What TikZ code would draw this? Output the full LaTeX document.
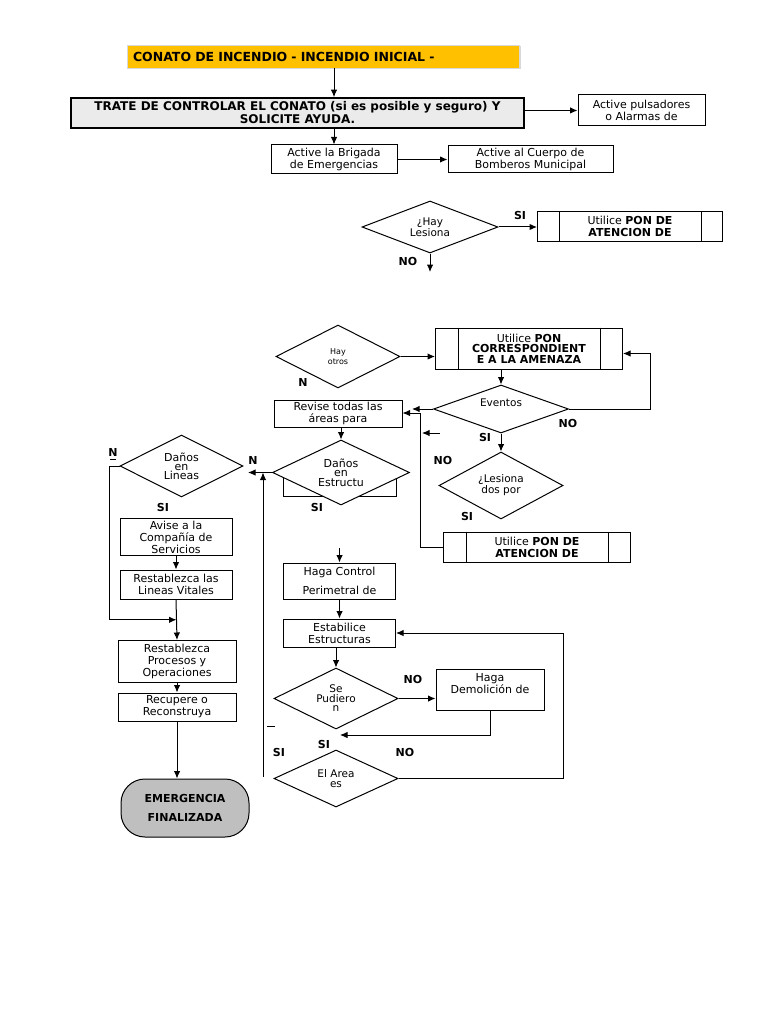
\documentclass[tikz,border=0pt]{standalone}
\usepackage{fontspec}
\setmainfont{DejaVu Sans}
\usepackage{tikz}
\usetikzlibrary{arrows.meta,positioning,calc,shapes.geometric,shadows}
\definecolor{Amber}{HTML}{FFC000}
\definecolor{Paper}{HTML}{EBEBEB}
\definecolor{Stone}{HTML}{BFBFBF}

\tikzset{
  base/.style={font=\fontsize{11}{12}\selectfont},
  box/.style={base,draw,line width=1pt,fill=white,align=center,inner sep=1pt},
  ponbox/.style={box,inner xsep=24pt},
  decision/.style={diamond,draw,line width=1pt,fill=white,align=center,inner sep=0pt,
    aspect=2,font=\fontsize{10.5}{9.5}\selectfont},
  lbl/.style={font=\bfseries\fontsize{11}{12}\selectfont,inner sep=0pt},
  flow/.style={line width=1pt,-{Latex[length=7.5pt,width=6.5pt]}},
  wire/.style={line width=1pt},
}
\newcommand{\sidebars}[2]{%
  \draw[wire] ([xshift=#2]#1.north west) -- ([xshift=#2]#1.south west);
  \draw[wire] ([xshift=-#2]#1.north east) -- ([xshift=-#2]#1.south east);}

\begin{document}
\begin{tikzpicture}[x=1pt,y=-1pt]
  \useasboundingbox[fill=white] (0,0) rectangle (768,1024);

  % cabecera
  \node[draw=gray!30,fill=Amber,drop shadow={shadow xshift=1.5pt,shadow yshift=-1.5pt,fill=gray!60},
    minimum width=392pt,minimum height=23pt,text width=380pt,align=left,inner xsep=6pt,
    font=\bfseries\fontsize{12.5}{14}\selectfont] (conato) at (323,56.5)
    {CONATO DE INCENDIO - INCENDIO INICIAL -};
  \node[box,fill=Paper,line width=1.6pt,minimum width=453pt,minimum height=30pt,
    font=\bfseries\fontsize{12}{13}\selectfont] (trate) at (297.5,113)
    {TRATE DE CONTROLAR EL CONATO (si es posible y seguro) Y\\SOLICITE AYUDA.};
  \node[box,minimum width=127pt,minimum height=31pt] (pulsa) at (641.5,110.5) {Active pulsadores\\o Alarmas de};
  \node[box,minimum width=126pt,minimum height=29pt] (brigada) at (334,159.5) {Active la Brigada\\de Emergencias};
  \node[box,minimum width=165pt,minimum height=27pt] (bomberos) at (530.5,159.5) {Active al Cuerpo de\\Bomberos Municipal};

  \node[decision,minimum width=136pt,minimum height=52pt] (lesion) at (430,227) {¿Hay\\Lesiona};
  \node[ponbox,minimum width=185pt,minimum height=29pt] (ponA) at (630,226.5) {Utilice \textbf{PON DE}\\\textbf{ATENCION DE}};
  \sidebars{ponA}{22pt}
  \coordinate (lesionNo) at (430,272);

  % amenazas y eventos
  \node[decision,minimum width=124pt,minimum height=63pt,font=\fontsize{8}{10}\selectfont] (otros) at (338,356.5) {Hay\\otros};
  \node[ponbox,minimum width=187pt,minimum height=41pt,font=\fontsize{11}{10.5}\selectfont] (ponB) at (529,348.5)
    {Utilice \textbf{PON}\\\textbf{CORRESPONDIENT}\\\textbf{E A LA AMENAZA}};
  \sidebars{ponB}{23pt}
  \node[decision,minimum width=135pt,minimum height=48pt] (eventos) at (501,409) {Eventos\\[3pt]};
  \node[box,minimum width=128pt,minimum height=27pt] (revise) at (338,413.5) {Revise todas las\\áreas para};
  \node[decision,minimum width=124pt,minimum height=67pt] (lesionB) at (501,485.5) {¿Lesiona\\dos por};
  \node[ponbox,minimum width=187pt,minimum height=30pt] (ponC) at (537,547) {Utilice \textbf{PON DE}\\\textbf{ATENCION DE}};
  \sidebars{ponC}{23pt}

  % danos
  \node[box,minimum width=113pt,minimum height=21pt] (perim) at (339.5,485.5) {};
  \node[decision,minimum width=137pt,minimum height=65pt,font=\fontsize{11}{9.5}\selectfont] (danosE) at (341,472.5) {Daños\\en\\Estructu};
  \node[decision,minimum width=123pt,minimum height=62pt,font=\fontsize{11}{9}\selectfont] (danosL) at (181.5,466) {Daños\\en\\Lineas};

  % columna izquierda
  \node[box,minimum width=112pt,minimum height=37pt] (avise) at (176,537) {Avise a la\\Compañía de\\Servicios};
  \node[box,minimum width=112pt,minimum height=29pt] (vitales) at (176,584.5) {Restablezca las\\Lineas Vitales};
  \node[box,minimum width=118pt,minimum height=42pt] (procesos) at (177,661.5) {Restablezca\\Procesos y\\Operaciones};
  \node[box,minimum width=118pt,minimum height=28pt] (recupere) at (177,707) {Recupere o\\Reconstruya};
  \node[box,fill=Stone,rounded corners=24pt,minimum width=128pt,minimum height=58pt,
    font=\bfseries\fontsize{11}{12}\selectfont] (fin) at (185,808) {EMERGENCIA\\[7pt]FINALIZADA};

  % columna central
  \node[box,minimum width=112pt,minimum height=36pt] (control) at (339.5,581) {Haga Control\\[7pt]Perimetral de};
  \node[box,minimum width=112pt,minimum height=28pt] (estabilice) at (339.5,633) {Estabilice\\Estructuras};
  \node[decision,minimum width=124pt,minimum height=61pt] (pudieron) at (336,698.5) {Se\\Pudiero\\n};
  \node[box,minimum width=108pt,minimum height=41pt] (demolicion) at (490,689.5) {Haga\\Demolición de\\~};
  \node[decision,minimum width=124pt,minimum height=57pt] (area) at (336,778.5) {El Area\\es};

  % conectores
  \draw[flow] (conato.south -| brigada) -- (trate.north -| brigada);
  \draw[flow] (trate.east |- pulsa) -- (pulsa.west);
  \draw[flow] (trate.south -| brigada) -- (brigada.north);
  \draw[flow] (brigada.east) -- (bomberos.west);
  \draw[flow] (lesion.east) -- (lesion.east -| ponA.west);
  \draw[flow] (lesion.south) -- (lesionNo);

  \draw[flow] (otros.east) -- (otros.east -| ponB.west);
  \draw[flow] (eventos.north |- ponB.south) -- (eventos.north);
  \coordinate (loopB) at (650,409);
  \draw[flow] (eventos.east) -- (loopB) |- ([yshift=-5pt]ponB.east);
  \coordinate (evL) at (412,409);
  \draw[flow] (eventos.west) -- (evL);
  \coordinate (stray1) at (440,433);
  \coordinate (stray1end) at (422,433);
  \draw[flow] (stray1) -- (stray1end);
  \draw[flow] (eventos.south) -- (lesionB.north);
  \coordinate (backC) at (420,413);
  \draw[flow] (ponC.west) -| (backC) -- (backC -| revise.east);

  \draw[flow] (danosE.north |- revise.south) -- (danosE.north);
  \coordinate (toLineas) at (248,472.5);
  \draw[flow] (danosE.west) -- (toLineas);
  \coordinate (riserBot) at (263,777);
  \draw[flow] (riserBot) -- (riserBot |- danosE.west);
  \coordinate (tick) at (267,726);
  \draw[wire] (tick) -- ++(8,0);

  \coordinate (join) at ($(vitales.south)!0.5!(procesos.north)$);
  \draw[flow] (danosL.west) -- ++(-10,0) |- (join);
  \draw[flow] (avise.south) -- (vitales.north);
  \draw[flow] (vitales.south) -- (procesos.north);
  \draw[flow] (procesos.south) -- (recupere.north);
  \draw[flow] (recupere.south) -- (recupere.south |- fin.north);

  \coordinate (stray2) at (339.5,548);
  \draw[flow] (stray2) -- (control.north);
  \draw[flow] (control.south) -- (estabilice.north);
  \draw[flow] (pudieron.north |- estabilice.south) -- (pudieron.north);
  \draw[flow] (pudieron.east) -- (pudieron.east -| demolicion.west);
  \coordinate (backD) at (340,735);
  \draw[flow] (demolicion.south) |- (backD);
  \coordinate (loopA) at (563,0);
  \draw[flow] (area.east) -| (loopA |- estabilice.east) -- (estabilice.east);

  % etiquetas
  \node[lbl] (siA) at (520,215) {SI};
  \node[lbl] (noA) at (408,261) {NO};
  \node[lbl] (nOtros) at (303,382) {N};
  \node[lbl] (noEv) at (568,423) {NO};
  \node[lbl] (siEv) at (485,437) {SI};
  \node[lbl] (noLes) at (443,460) {NO};
  \node[lbl] (siLes) at (467,516) {SI};
  \node[lbl] (nE) at (253,460) {N};
  \node[lbl] (siE) at (317,507) {SI};
  \node[lbl] (nL) at (113,452) {N};
  \draw[line width=0.6pt] ([yshift=-3pt,xshift=2pt]nL.south west) -- ([yshift=-3pt,xshift=-2pt]nL.south east);
  \node[lbl] (siL) at (163,507) {SI};
  \node[lbl] (noP) at (413,679) {NO};
  \node[lbl] (siP) at (324,744) {SI};
  \node[lbl] (siR) at (279,752) {SI};
  \node[lbl] (noR) at (405,752) {NO};
\end{tikzpicture}
\end{document}
